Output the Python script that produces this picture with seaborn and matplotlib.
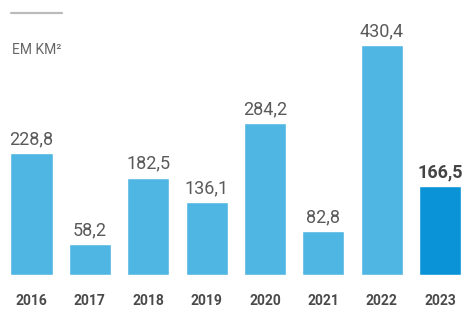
import matplotlib
matplotlib.use("Agg")
import matplotlib.pyplot as plt
import seaborn as sns
import pandas as pd

years = ["2016", "2017", "2018", "2019", "2020", "2021", "2022", "2023"]
values = [228.8, 58.2, 182.5, 136.1, 284.2, 82.8, 430.4, 166.5]
labels = ["228,8", "58,2", "182,5", "136,1", "284,2", "82,8", "430,4", "166,5"]
unit_label = "EM KM²"

light = "#4fb5e3"
dark = "#0a93d6"
colors = [light] * 7 + [dark]

sns.set_style("white")
plt.rcParams["font.family"] = ["Roboto", "DejaVu Sans"]

df = pd.DataFrame({"year": years, "value": values})

fig = plt.figure(figsize=(4.74, 3.27), dpi=100)
W, H = 474, 327
ax = fig.add_axes([2.3 / W, (H - 275) / H, 467 / W, 267 / H])
sns.barplot(data=df, x="year", y="value", hue="year", palette=colors,
            legend=False, width=0.72, saturation=1, ax=ax)
ax.set_xlim(-0.5, 7.5)
ax.set_ylim(0, 500)
for s in ax.spines.values():
    s.set_visible(False)
ax.set_yticks([])
ax.set_xlabel("")
ax.set_ylabel("")
ax.tick_params(axis="x", length=0, pad=14)
for t in ax.get_xticklabels():
    t.set_fontweight("bold")
    t.set_fontsize(10)
    t.set_color("#4a4a4a")

for i, (v, lab) in enumerate(zip(values, labels)):
    last = i == len(values) - 1
    ax.annotate(lab, (i, v), xytext=(0, 3.5), textcoords="offset points",
                ha="center", va="bottom",
                fontsize=13,
                fontweight="bold" if last else "normal",
                color="#444444" if last else "#5a5a5a")

fig.add_artist(plt.Line2D([11 / W, 62 / W], [1 - 13 / H, 1 - 13 / H],
                          color="#bbbbbb", linewidth=1.6))
fig.text(12 / W, 1 - 50 / H, unit_label, fontsize=10, color="#666666",
         ha="left", va="center")

fig.savefig("out.png", dpi=100)
